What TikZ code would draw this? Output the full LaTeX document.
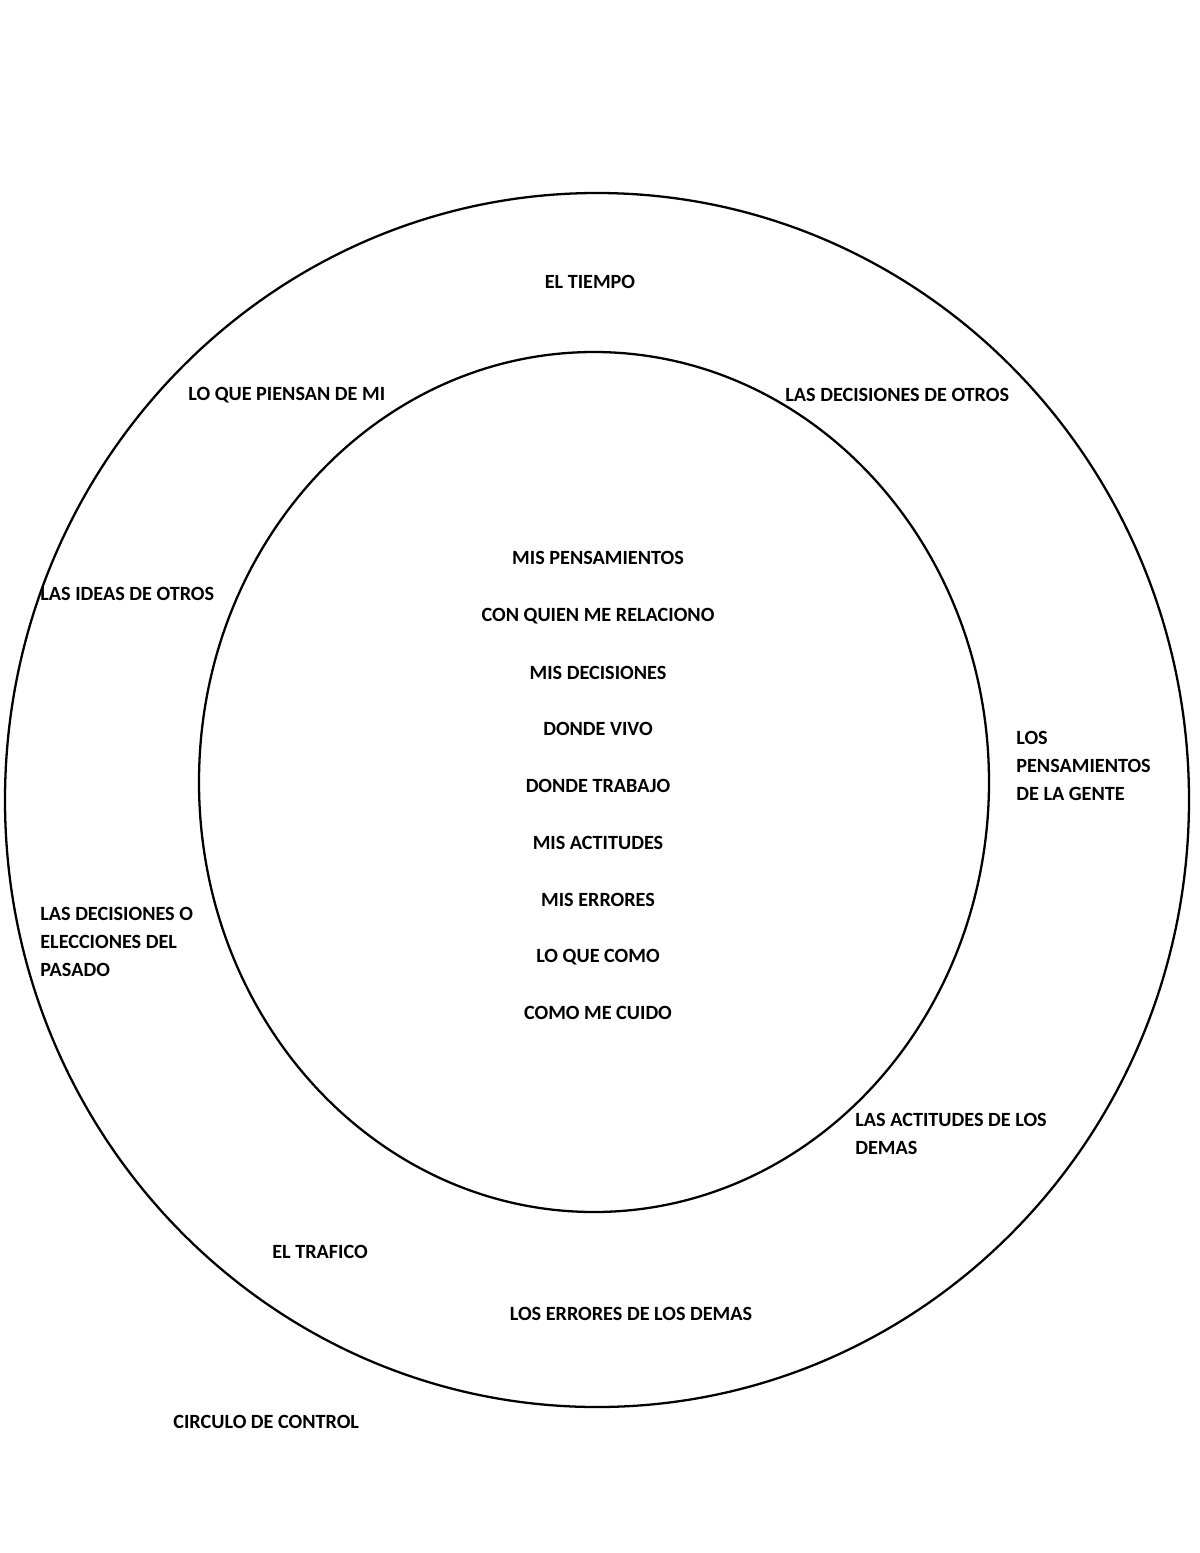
\documentclass[tikz,border=0pt]{standalone}
\usepackage{fontspec}
\setmainfont{Carlito}
\begin{document}
\begin{tikzpicture}[x=0.02cm,y=-0.02cm,
  lbl/.style={font=\bfseries\fontsize{11.5}{15.9}\selectfont,inner sep=0pt},
  lft/.style={lbl,anchor=west,align=left}]
\useasboundingbox (0,0) rectangle (1200,1553);

% the two circles
\draw [line width=1.3pt] (597,800) ellipse [x radius=592,y radius=607];
\draw [line width=1.3pt] (594,782) ellipse [x radius=395,y radius=430];

% inside
\node[lbl] (pens) at (598,558) {MIS PENSAMIENTOS};
\node[lbl] (rel) at (598,616) {CON QUIEN ME RELACIONO};
\node[lbl] (dec) at (598,673) {MIS DECISIONES};
\node[lbl] (vivo) at (598,729) {DONDE VIVO};
\node[lbl] (trab) at (598,786) {DONDE TRABAJO};
\node[lbl] (act) at (598,843) {MIS ACTITUDES};
\node[lbl] (err) at (598,900) {MIS ERRORES};
\node[lbl] (como) at (598,957) {LO QUE COMO};
\node[lbl] (cuido) at (598,1013) {COMO ME CUIDO};

% outside
\node[lbl] (tiempo) at (590,282) {EL TIEMPO};
\node[lft] (piensan) at (188,395) {LO QUE PIENSAN DE MI};
\node[lft] (otros) at (785,395) {LAS DECISIONES DE OTROS};
\node[lft] (ideas) at (40,594) {LAS IDEAS DE OTROS};
\node[lft] (gente) at (1016,766) {LOS\\PENSAMIENTOS\\DE LA GENTE};
\node[lft] (pasado) at (40,942) {LAS DECISIONES O\\ELECCIONES DEL\\PASADO};
\node[lft] (demas) at (855,1134) {LAS ACTITUDES DE LOS\\DEMAS};
\node[lft] (trafico) at (272,1252) {EL TRAFICO};
\node[lbl] (errores) at (631,1314) {LOS ERRORES DE LOS DEMAS};
\node[lft] (titulo) at (173,1422) {CIRCULO DE CONTROL};
\end{tikzpicture}
\end{document}
